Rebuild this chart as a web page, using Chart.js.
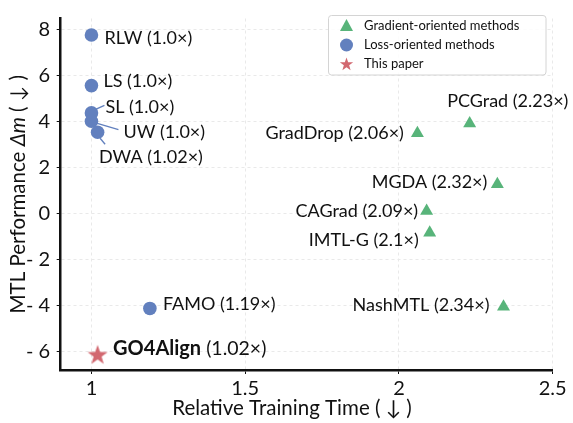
<!DOCTYPE html>
<html>
<head>
<meta charset="utf-8">
<script src="https://cdn.jsdelivr.net/npm/chart.js@4/dist/chart.umd.min.js"></script>
<style>
  html, body { margin: 0; padding: 0; background: #ffffff; }
  #wrap { width: 573px; height: 423px; position: relative; }
</style>
</head>
<body>
<div id="wrap"><canvas id="chart" width="573" height="423"></canvas></div>
<script>
// 數據
const gradNames = ['PCGrad', 'GradDrop', 'MGDA', 'CAGrad', 'IMTL-G', 'NashMTL'];
const gradTime = [2.23, 2.06, 2.32, 2.09, 2.1, 2.34];
const gradDm = [3.93, 3.51, 1.29, 0.12, -0.83, -4.05];

const lossNames = ['RLW', 'LS', 'SL', 'UW', 'DWA', 'FAMO'];
const lossTime = [1.0, 1.0, 1.0, 1.0, 1.02, 1.19];
const lossDm = [7.78, 5.58, 4.39, 4.03, 3.55, -4.12];

const oursNames = ['GO4Align'];
const oursTime = [1.02];
const oursDm = [-6.12];

const legendLabels = ['Gradient-oriented methods', 'Loss-oriented methods', 'This paper'];
const xTicks = [1, 1.5, 2, 2.5];
const yTicks = [-6, -4, -2, 0, 2, 4, 6, 8];

// 樣式
const FONT = 'Lato, "Noto Sans", sans-serif';
const BLUE = 'rgb(98, 128, 190)';
const GREEN = 'rgb(88, 180, 122)';
const RED = 'rgb(210, 104, 112)';
const TEXT = '#111111';

// 標籤偏移 (像素): dx, dy, 對齊, 引線
const labelStyle = {
    'RLW': { dx: 13, dy: 3, align: 'left' },
    'LS': { dx: 12, dy: -4, align: 'left' },
    'SL': { dx: 14, dy: -6, align: 'left', line: [3, -3, 13, -7.5] },
    'UW': { dx: 32, dy: 11, align: 'left', line: [5, 2, 27, 8.5] },
    'DWA': { dx: 1.5, dy: 25, align: 'left', line: [2.5, 6, 7.5, 12] },
    'FAMO': { dx: 13, dy: -4, align: 'left' },
    'GO4Align': { dx: 15.5, dy: -6, align: 'left' },
    'PCGrad': { dx: -22.5, dy: -22.5, align: 'left' },
    'GradDrop': { dx: -13.5, dy: 0, align: 'right' },
    'MGDA': { dx: -10, dy: -1.5, align: 'right' },
    'CAGrad': { dx: -8.5, dy: 0, align: 'right' },
    'IMTL-G': { dx: -11, dy: 7.5, align: 'right' },
    'NashMTL': { dx: -14, dy: -1.5, align: 'right' }
};

function fmtTime(v) {
    return (v % 1 === 0 ? v.toFixed(1) : String(v)) + '\u00d7';
}

function toPoints(xs, ys) {
    return xs.map((x, i) => ({ x: x, y: ys[i] }));
}

// 星形標記
function starPath(ctx, cx, cy, outer, inner) {
    ctx.beginPath();
    for (let i = 0; i < 10; i++) {
        const r = i % 2 === 0 ? outer : inner;
        const a = -Math.PI / 2 + i * Math.PI / 5;
        const px = cx + r * Math.cos(a);
        const py = cy + r * Math.sin(a);
        if (i === 0) ctx.moveTo(px, py); else ctx.lineTo(px, py);
    }
    ctx.closePath();
}

function makeStar(size, color) {
    const c = document.createElement('canvas');
    c.width = size;
    c.height = size;
    const g = c.getContext('2d');
    g.fillStyle = color;
    starPath(g, size / 2, size / 2 + 0.9, size / 2 - 0.5, (size / 2 - 0.5) * 0.4);
    g.fill();
    return c;
}
const starImg = makeStar(22, RED);

// 數據標籤插件
const labelPlugin = {
    id: 'pointLabels',
    afterDatasetsDraw(chart) {
        const ctx = chart.ctx;
        ctx.save();
        ctx.textBaseline = 'middle';
        ctx.fillStyle = TEXT;
        chart.data.datasets.forEach((ds, di) => {
            const meta = chart.getDatasetMeta(di);
            meta.data.forEach((pt, i) => {
                const name = ds.names[i];
                const st = labelStyle[name];
                const rest = ' (' + fmtTime(ds.data[i].x) + ')';
                if (st.line) {
                    ctx.strokeStyle = BLUE;
                    ctx.lineWidth = 1.3;
                    ctx.beginPath();
                    ctx.moveTo(pt.x + st.line[0], pt.y + st.line[1]);
                    ctx.lineTo(pt.x + st.line[2], pt.y + st.line[3]);
                    ctx.stroke();
                }
                const x = pt.x + st.dx;
                const y = pt.y + st.dy;
                if (name === 'GO4Align') {
                    ctx.textAlign = 'left';
                    ctx.font = 'bold 20px ' + FONT;
                    ctx.fillText(name, x, y);
                    const w = ctx.measureText(name).width;
                    ctx.font = '19.5px ' + FONT;
                    ctx.fillText(rest, x + w, y);
                } else {
                    ctx.font = '18px ' + FONT;
                    ctx.textAlign = st.align;
                    ctx.fillText(name + rest, x, y);
                }
            });
        });
        ctx.restore();
    }
};

// 坐標軸標題和圖例插件
const decorPlugin = {
    id: 'decor',
    afterDraw(chart) {
        const ctx = chart.ctx;
        const area = chart.chartArea;
        ctx.save();
        ctx.fillStyle = TEXT;
        ctx.textBaseline = 'middle';

        // x 軸標題
        ctx.font = '20.5px ' + FONT;
        ctx.textAlign = 'center';
        ctx.fillText('Relative Training Time ( \u2193 )', 292, 408);

        // y 軸標題 (Δm 斜體)
        const parts = [
            ['MTL Performance ', '20.5px ' + FONT],
            ['\u0394m', 'italic 20.5px ' + FONT],
            [' ( \u2193 )', '20.5px ' + FONT]
        ];
        let total = 0;
        parts.forEach(p => { ctx.font = p[1]; total += ctx.measureText(p[0]).width; });
        ctx.translate(18.5, (area.top + area.bottom) / 2);
        ctx.rotate(-Math.PI / 2);
        ctx.textAlign = 'left';
        let cx = -total / 2;
        parts.forEach(p => {
            ctx.font = p[1];
            ctx.fillText(p[0], cx, 0);
            cx += ctx.measureText(p[0]).width;
        });
        ctx.setTransform(1, 0, 0, 1, 0, 0);
        ctx.restore();

        // 圖例
        ctx.save();
        const bx = 328.5, by = 15.5, bw = 217.5, bh = 59.5;
        ctx.fillStyle = 'rgba(255,255,255,0.85)';
        ctx.strokeStyle = '#d4d4d4';
        ctx.lineWidth = 1;
        ctx.beginPath();
        ctx.roundRect(bx, by, bw, bh, 3);
        ctx.fill();
        ctx.stroke();

        const mx = 346.5;
        const rows = [26, 45, 64];
        // 三角形
        ctx.fillStyle = GREEN;
        ctx.beginPath();
        ctx.moveTo(mx, rows[0] - 7);
        ctx.lineTo(mx + 6.5, rows[0] + 5);
        ctx.lineTo(mx - 6.5, rows[0] + 5);
        ctx.closePath();
        ctx.fill();
        // 圓形
        ctx.fillStyle = BLUE;
        ctx.beginPath();
        ctx.arc(mx, rows[1], 6.5, 0, Math.PI * 2);
        ctx.fill();
        // 星形
        ctx.fillStyle = RED;
        starPath(ctx, mx, rows[2] + 0.5, 7, 2.8);
        ctx.fill();

        ctx.fillStyle = TEXT;
        ctx.font = '13px ' + FONT;
        ctx.textAlign = 'left';
        ctx.textBaseline = 'middle';
        legendLabels.forEach((t, i) => ctx.fillText(t, 364, rows[i]));
        ctx.restore();
    }
};

new Chart(document.getElementById('chart').getContext('2d'), {
    type: 'scatter',
    data: {
        datasets: [
            {
                label: legendLabels[0],
                names: gradNames,
                data: toPoints(gradTime, gradDm),
                pointStyle: 'triangle',
                pointRadius: 7.5,
                backgroundColor: GREEN,
                borderWidth: 0
            },
            {
                label: legendLabels[1],
                names: lossNames,
                data: toPoints(lossTime, lossDm),
                pointStyle: 'circle',
                pointRadius: 6.8,
                backgroundColor: BLUE,
                borderWidth: 0
            },
            {
                label: legendLabels[2],
                names: oursNames,
                data: toPoints(oursTime, oursDm),
                pointStyle: starImg,
                backgroundColor: RED,
                borderWidth: 0
            }
        ]
    },
    options: {
        responsive: false,
        animation: false,
        events: [],
        layout: { padding: { top: 9, right: 20.3, left: 0, bottom: 0 } },
        plugins: {
            legend: { display: false },
            tooltip: { enabled: false }
        },
        scales: {
            x: {
                type: 'linear',
                min: 0.9,
                max: 2.5,
                afterFit(scale) { scale.height = 53; },
                afterBuildTicks(scale) { scale.ticks = xTicks.map(v => ({ value: v })); },
                grid: {
                    color: '#e9e9e9',
                    lineWidth: 1,
                    tickLength: 4,
                    tickColor: '#111',
                    tickWidth: 1,
                    tickBorderDash: []
                },
                border: { display: true, color: '#111', width: 2.5, dash: [3, 3] },
                ticks: {
                    padding: 3,
                    color: TEXT,
                    font: { family: FONT, size: 20 },
                    callback: v => String(v)
                }
            },
            y: {
                type: 'linear',
                min: -6.8,
                max: 8.5,
                afterFit(scale) { scale.width = 60.7; },
                afterBuildTicks(scale) { scale.ticks = yTicks.map(v => ({ value: v })); },
                grid: {
                    color: '#e9e9e9',
                    lineWidth: 1,
                    tickLength: 4,
                    tickColor: '#111',
                    tickWidth: 1,
                    tickBorderDash: []
                },
                border: { display: true, color: '#111', width: 2.5, dash: [3, 3] },
                ticks: {
                    padding: 6.5,
                    color: TEXT,
                    font: { family: FONT, size: 20 },
                    callback: v => String(v).replace('-', '- ')
                }
            }
        }
    },
    plugins: [labelPlugin, decorPlugin]
});
</script>
</body>
</html>
